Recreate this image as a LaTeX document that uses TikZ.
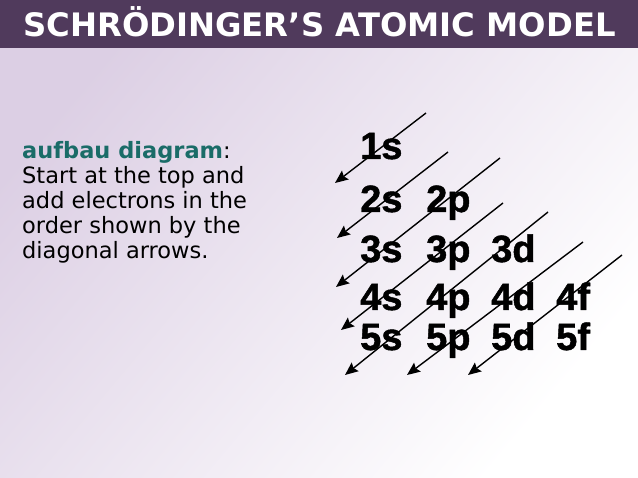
\documentclass[tikz,border=0pt]{standalone}
\usepackage{fontspec}
\setmainfont{DejaVu Sans}
\newfontfamily\orbfont[FakeBold=1.2]{Liberation Sans Bold}
\usetikzlibrary{arrows.meta}

\definecolor{barpurple}{RGB}{80,58,92}
\definecolor{aufbauteal}{RGB}{26,108,104}
\definecolor{bglavender}{RGB}{220,207,228}

\tikzset{
    orb/.style={font=\orbfont\fontsize{38}{38}\selectfont, anchor=base west, inner sep=0pt},
    arr/.style={-{Stealth[length=13pt,width=11pt,inset=2pt]}, line width=1.4pt}
}

\begin{document}
\begin{tikzpicture}[x=1pt,y=-1pt]

    % Background and title bar
    \useasboundingbox (0,0) rectangle (638,478);
    \shade[top color=bglavender, bottom color=white, shading angle=50] (0,0) rectangle (638,478);
    \fill[barpurple] (0,0) rectangle (638,48);
    \node[text=white, font=\bfseries\fontsize{32.3}{33}\selectfont, anchor=base] (title) at (319.5,37) {SCHRÖDINGER’S ATOMIC MODEL};

    % Explanation on the left
    \node[anchor=north west, inner sep=0pt, align=left, font=\fontsize{22.5}{25}\selectfont] (info) at (22,141)
        {\textcolor{aufbauteal}{\bfseries aufbau diagram}:\\
         Start at the top and\\
         add electrons in the\\
         order shown by the\\
         diagonal arrows.};

    % Orbitals, one row per shell
    \node[orb] (o1s) at (360,159) {1s};

    \node[orb] (o2s) at (360,212) {2s};
    \node[orb] (o2p) at (426,212) {2p};

    \node[orb] (o3s) at (360,262) {3s};
    \node[orb] (o3p) at (426,262) {3p};
    \node[orb] (o3d) at (491,262) {3d};

    \node[orb] (o4s) at (360,310) {4s};
    \node[orb] (o4p) at (426,310) {4p};
    \node[orb] (o4d) at (491,310) {4d};
    \node[orb] (o4f) at (556,310) {4f};

    \node[orb] (o5s) at (360,350) {5s};
    \node[orb] (o5p) at (426,350) {5p};
    \node[orb] (o5d) at (491,350) {5d};
    \node[orb] (o5f) at (556,350) {5f};

    % Start and end points of the diagonal arrows
    \coordinate (a1) at (426,113);  \coordinate (b1) at (335,183);
    \coordinate (a2) at (448,152);  \coordinate (b2) at (337,238);
    \coordinate (a3) at (500,158);  \coordinate (b3) at (336,287);
    \coordinate (a4) at (503,203);  \coordinate (b4) at (341,330);
    \coordinate (a5) at (548,212);  \coordinate (b5) at (345,375);
    \coordinate (a6) at (583,242);  \coordinate (b6) at (407,375);
    \coordinate (a7) at (622,255);  \coordinate (b7) at (468,375);

    % Draw the diagonal arrows
    \foreach \i in {1,...,7}
        \draw[arr] (a\i) -- (b\i);

\end{tikzpicture}
\end{document}
